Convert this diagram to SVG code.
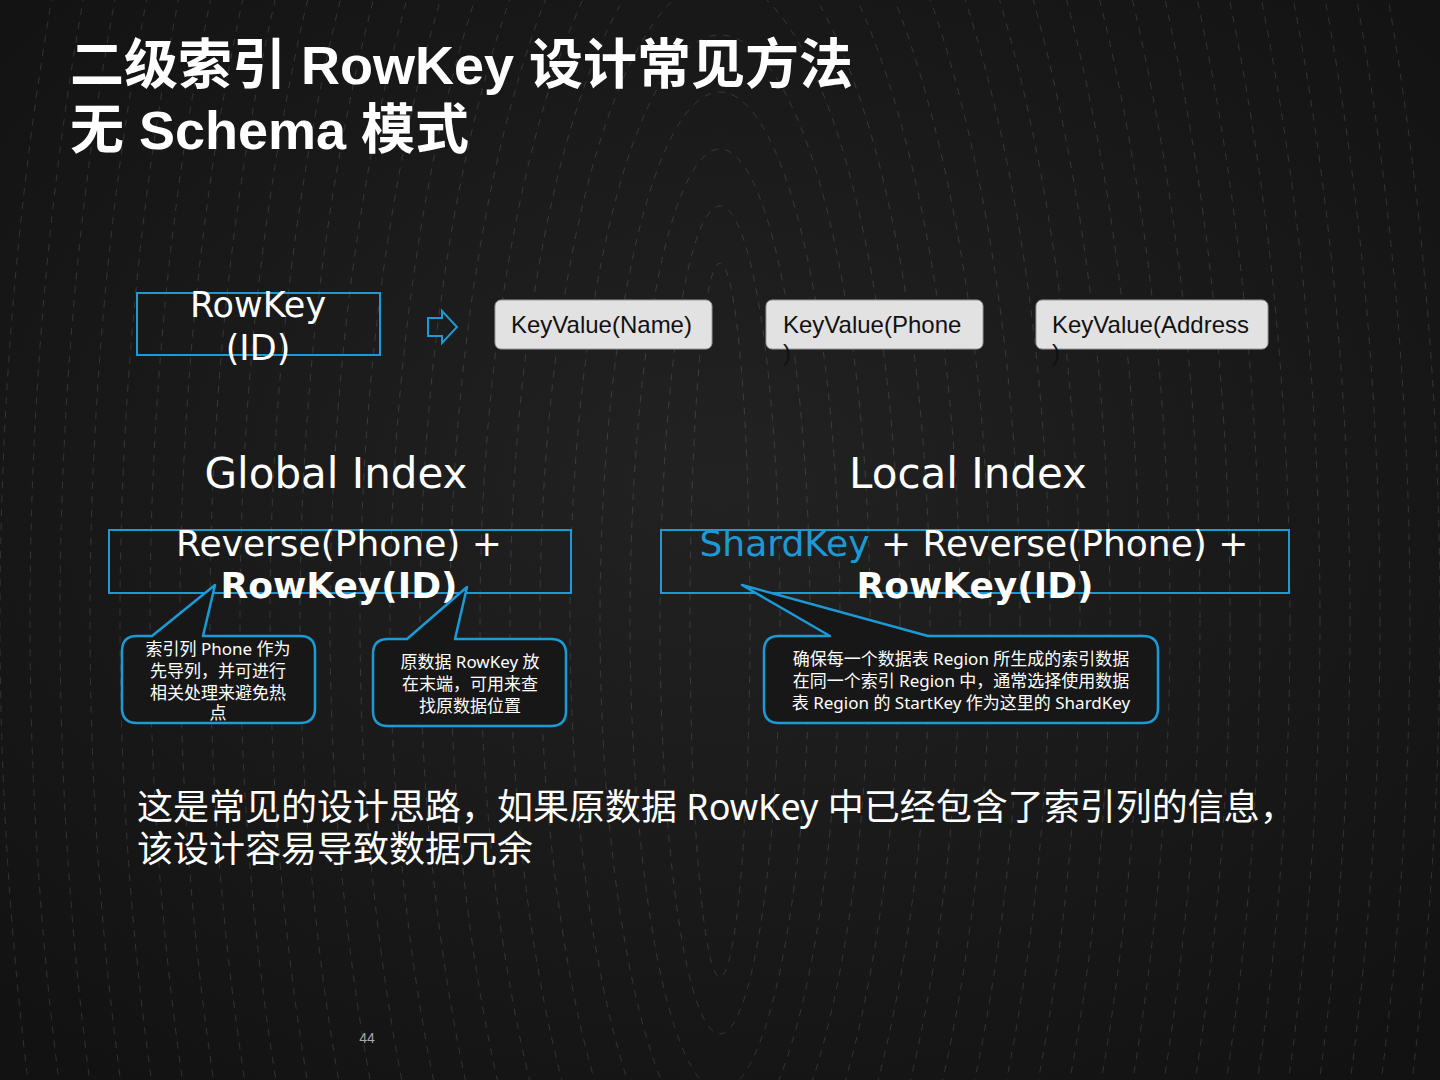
<svg xmlns="http://www.w3.org/2000/svg" width="1440" height="1080" viewBox="0 0 1440 1080">
<defs>
<radialGradient id="bg" cx="50%" cy="45%" r="70%">
<stop offset="0" stop-color="#222222"/>
<stop offset="1" stop-color="#121212"/>
</radialGradient>
<style>
.cjk{font-family:"Noto Sans","Noto Sans CJK SC",sans-serif;fill:#ffffff}
.title{font-family:"Liberation Sans","Noto Sans CJK SC",sans-serif;font-weight:bold;font-size:54px;fill:#ffffff}
.dv{font-family:"DejaVu Sans",sans-serif;fill:#ffffff}
.box{fill:none;stroke:#1b9ad6;stroke-width:2}
.kv{fill:#e2e2e2;stroke:#9a9a9a;stroke-width:1}
.kvt{font-family:"Liberation Sans",sans-serif;font-size:24px;fill:#111111}
.call{fill:#171717;stroke:#1b9ad6;stroke-width:2.5;stroke-linejoin:round}
.ct{font-family:"Noto Sans","Noto Sans CJK SC",sans-serif;font-size:17px;fill:#ffffff;text-anchor:middle}
.ring{fill:none;stroke:#ffffff;stroke-opacity:0.13;stroke-width:1;stroke-dasharray:7 7}
</style>
</defs>
<rect width="1440" height="1080" fill="url(#bg)"/>
<g id="background">
<ellipse class="ring" cx="720" cy="620" rx="30" ry="357"/>
<ellipse class="ring" cx="720" cy="620" rx="60" ry="414"/>
<ellipse class="ring" cx="720" cy="620" rx="90" ry="471"/>
<ellipse class="ring" cx="720" cy="620" rx="120" ry="528"/>
<ellipse class="ring" cx="720" cy="620" rx="150" ry="585"/>
<ellipse class="ring" cx="720" cy="620" rx="180" ry="642"/>
<ellipse class="ring" cx="720" cy="620" rx="210" ry="699"/>
<ellipse class="ring" cx="720" cy="620" rx="240" ry="756"/>
<ellipse class="ring" cx="720" cy="620" rx="270" ry="813"/>
<ellipse class="ring" cx="720" cy="620" rx="300" ry="870"/>
<ellipse class="ring" cx="720" cy="620" rx="330" ry="927"/>
<ellipse class="ring" cx="720" cy="620" rx="360" ry="984"/>
<ellipse class="ring" cx="720" cy="620" rx="390" ry="1041"/>
<ellipse class="ring" cx="720" cy="620" rx="420" ry="1098"/>
<ellipse class="ring" cx="720" cy="620" rx="450" ry="1155"/>
<ellipse class="ring" cx="720" cy="620" rx="480" ry="1212"/>
<ellipse class="ring" cx="720" cy="620" rx="510" ry="1269"/>
<ellipse class="ring" cx="720" cy="620" rx="540" ry="1326"/>
<ellipse class="ring" cx="720" cy="620" rx="570" ry="1383"/>
<ellipse class="ring" cx="720" cy="620" rx="600" ry="1440"/>
<ellipse class="ring" cx="720" cy="620" rx="630" ry="1497"/>
<ellipse class="ring" cx="720" cy="620" rx="660" ry="1554"/>
<ellipse class="ring" cx="720" cy="620" rx="690" ry="1611"/>
<ellipse class="ring" cx="720" cy="620" rx="720" ry="1668"/>
</g>
<g id="title">
<text class="title" x="70" y="84">二级索引 RowKey 设计常见方法</text>
<text class="title" x="70" y="149">无 Schema 模式</text>
</g>
<g id="rowkey">
<rect class="box" x="137" y="293" width="243" height="62"/>
<text class="dv" x="258" y="317" font-size="35" text-anchor="middle">RowKey</text>
<text class="dv" x="258" y="360" font-size="35" text-anchor="middle">(ID)</text>
</g>
<g id="connectors">
<path d="M428,318 L442,318 L442,311 L457,327 L442,343 L442,336 L428,336 Z" fill="none" stroke="#1b9ad6" stroke-width="2" stroke-linejoin="miter"/>
</g>
<g id="kv-name">
<rect class="kv" x="495" y="300" width="217" height="49" rx="6"/>
<text class="kvt" x="511" y="333">KeyValue(Name)</text>
</g>
<g id="kv-phone">
<rect class="kv" x="766" y="300" width="217" height="49" rx="6"/>
<text class="kvt" x="783" y="333">KeyValue(Phone</text>
<text class="kvt" x="783" y="361">)</text>
</g>
<g id="kv-address">
<rect class="kv" x="1036" y="300" width="232" height="49" rx="6"/>
<text class="kvt" x="1052" y="333">KeyValue(Address</text>
<text class="kvt" x="1052" y="361">)</text>
</g>
<g id="global-label">
<text class="dv" x="336" y="488" font-size="42" text-anchor="middle">Global Index</text>
</g>
<g id="local-label">
<text class="dv" x="968" y="488" font-size="42" text-anchor="middle">Local Index</text>
</g>
<g id="global-box">
<rect class="box" x="109" y="530" width="462" height="63"/>
<text class="dv" x="339" y="556" font-size="36" text-anchor="middle">Reverse(Phone) +</text>
<text class="dv" x="339" y="598" font-size="36" font-weight="bold" text-anchor="middle">RowKey(ID)</text>
</g>
<g id="local-box">
<rect class="box" x="661" y="530" width="628" height="63"/>
<text class="dv" x="974" y="556" font-size="36" text-anchor="middle"><tspan fill="#1b9ad6">ShardKey</tspan> + Reverse(Phone) +</text>
<text class="dv" x="975" y="598" font-size="36" font-weight="bold" text-anchor="middle">RowKey(ID)</text>
</g>
<g id="callout-phone">
<path class="call" d="M137,636 L152,636 L215,585 L203,636 L300,636 Q315,636 315,651 L315,708 Q315,723 300,723 L137,723 Q122,723 122,708 L122,651 Q122,636 137,636 Z"/>
<text class="ct" x="218" y="655">索引列 Phone 作为</text>
<text class="ct" x="218" y="677">先导列，并可进行</text>
<text class="ct" x="218" y="699">相关处理来避免热</text>
<text class="ct" x="218" y="719">点</text>
</g>
<g id="callout-rowkey">
<path class="call" d="M388,639 L407,639 L467,587 L455,639 L551,639 Q566,639 566,654 L566,711 Q566,726 551,726 L388,726 Q373,726 373,711 L373,654 Q373,639 388,639 Z"/>
<text class="ct" x="470" y="668">原数据 RowKey 放</text>
<text class="ct" x="470" y="690">在末端，可用来查</text>
<text class="ct" x="470" y="712">找原数据位置</text>
</g>
<g id="callout-shard">
<path class="call" d="M779,636 L830,636 L742,585 L928,636 L1143,636 Q1158,636 1158,651 L1158,708 Q1158,723 1143,723 L779,723 Q764,723 764,708 L764,651 Q764,636 779,636 Z"/>
<text class="ct" x="961" y="665" font-size="17.5">确保每一个数据表 Region 所生成的索引数据</text>
<text class="ct" x="961" y="687" font-size="17.5">在同一个索引 Region 中，通常选择使用数据</text>
<text class="ct" x="961" y="709" font-size="17.5">表 Region 的 StartKey 作为这里的 ShardKey</text>
</g>
<g id="summary">
<text class="cjk" x="137" y="820" font-size="36">这是常见的设计思路，如果原数据 RowKey 中已经包含了索引列的信息，</text>
<text class="cjk" x="137" y="862" font-size="36">该设计容易导致数据冗余</text>
</g>
<text x="367" y="1043" font-family="Liberation Sans, sans-serif" font-size="14" fill="#aaaaaa" text-anchor="middle">44</text>
</svg>
